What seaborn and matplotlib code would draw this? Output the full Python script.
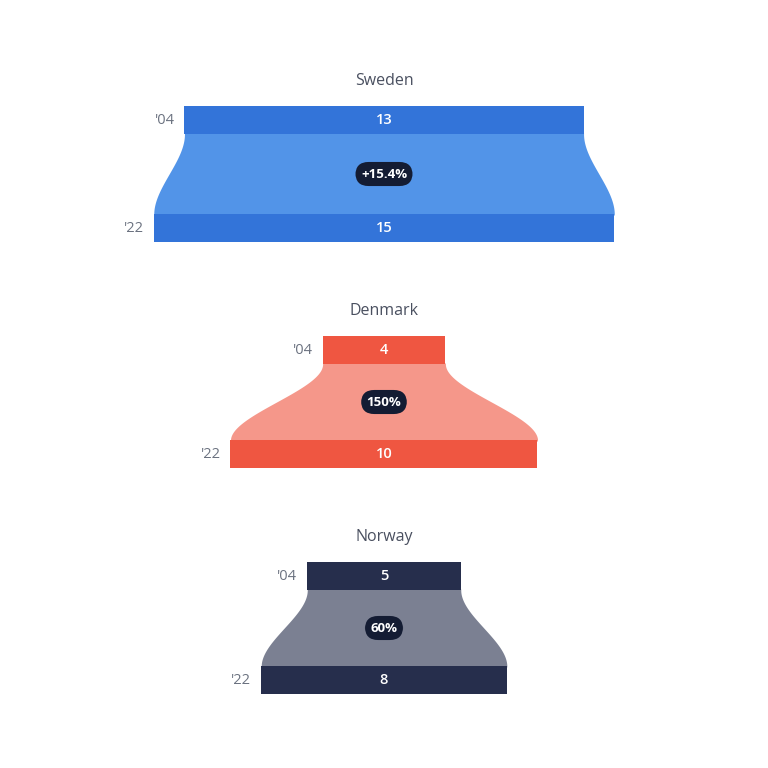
import numpy as np
import matplotlib
matplotlib.use("Agg")
import matplotlib.pyplot as plt
import seaborn as sns

countries = ["Sweden", "Denmark", "Norway"]
years = ["'04", "'22"]
values_04 = [13, 4, 5]
values_22 = [15, 10, 8]
change_labels = ["+15.4%", "150%", "60%"]

dark_colors = ["#3374D9", "#EF5641", "#262E4C"]
light_colors = ["#5294E8", "#F5978A", "#7B8092"]
pill_color = "#141C33"

sns.set_theme(style="white")
plt.rcParams["font.family"] = ["Open Sans", "DejaVu Sans"]

W = H = 768
fig = plt.figure(figsize=(7.68, 7.68), dpi=100)
ax = fig.add_axes([0, 0, 1, 1])
px_per_unit = 30.7
half = (W / 2) / px_per_unit
ax.set_xlim(-half, half)
ax.set_ylim(H, 0)
ax.axis("off")

panel_tops = [106, 336, 562]
flow_heights = [80, 76, 76]
bar_h = 28

for i, c in enumerate(countries):
    top = panel_tops[i]
    flow_h = flow_heights[i]
    v0, v1 = values_04[i], values_22[i]
    # title
    ax.text(0, top - 25, c, ha="center", va="center", fontsize=11.5,
            color="#4A5060")
    # flow
    y0 = top + bar_h
    y1 = y0 + flow_h
    yy = np.linspace(y0 - 1, y1 + 1, 240)
    t = np.clip((yy - y0) / (y1 - y0), 0, 1)
    s = t * t * (3 - 2 * t)
    hw = v0 / 2 + (v1 / 2 - v0 / 2) * s
    ax.fill_betweenx(yy, -hw, hw, color=light_colors[i], lw=0)
    # bars
    ax.barh([top + bar_h / 2], [v0], left=[-v0 / 2], height=bar_h,
            color=dark_colors[i], lw=0)
    ax.barh([y1 + bar_h / 2], [v1], left=[-v1 / 2], height=bar_h,
            color=dark_colors[i], lw=0)
    # value labels
    ax.text(0, top + bar_h / 2, str(v0), ha="center", va="center",
            fontsize=10.5, color="white", fontweight="semibold")
    ax.text(0, y1 + bar_h / 2, str(v1), ha="center", va="center",
            fontsize=10.5, color="white", fontweight="semibold")
    # year labels
    off = 10 / px_per_unit
    ax.text(-v0 / 2 - off, top + bar_h / 2, years[0], ha="right",
            va="center", fontsize=10.5, color="#6B7280")
    ax.text(-v1 / 2 - off, y1 + bar_h / 2, years[1], ha="right",
            va="center", fontsize=10.5, color="#6B7280")
    # pill
    ax.text(0, (y0 + y1) / 2, change_labels[i], ha="center", va="center",
            fontsize=9.5, color="white", fontweight="bold",
            bbox=dict(boxstyle="round,pad=0.42,rounding_size=1.0",
                      fc=pill_color, ec="none"))

fig.savefig("out.png", dpi=100, facecolor="white")
